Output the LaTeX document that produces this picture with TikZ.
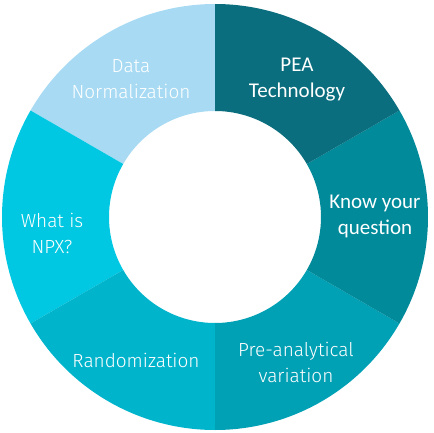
\documentclass[tikz,border=0pt]{standalone}
\usepackage{fontspec}
\newfontfamily\thinfont{Fira Sans Light}
\newfontfamily\regfont{Carlito}
\definecolor{cPEA}{HTML}{0B6E7E}
\definecolor{cKnow}{HTML}{018A9A}
\definecolor{cPre}{HTML}{00A0B5}
\definecolor{cRand}{HTML}{00B4CC}
\definecolor{cNPX}{HTML}{00C8E2}
\definecolor{cData}{HTML}{A8DBF3}
\begin{document}
\begin{tikzpicture}[x=1pt,y=1pt,
  seglabel/.style={text=white,align=center,font=\thinfont\fontsize{19}{26}\selectfont},
  seglabelb/.style={text=white,align=center,font=\regfont\fontsize{21}{26}\selectfont}]
\useasboundingbox (0,0) rectangle (434,432);
\coordinate (c) at (215,215);
\def\RO{213}\def\RI{106}
\foreach \a/\b/\col in {90/150/cData,150/210/cNPX,210/270/cRand,270/330/cPre,330/390/cKnow,30/90/cPEA}{
  \fill[\col] ([shift={(\a:\RO)}]c) arc[start angle=\a,end angle=\b,radius=\RO]
     -- ([shift={(\b:\RI)}]c) arc[start angle=\b,end angle=\a,radius=\RI] -- cycle;
}
\node[seglabel] (data) at (131,353) {Data\\Normalization};
\node[seglabelb] (pea) at (297,352) {PEA\\Technology};
\node[seglabelb] (know) at (375,216) {Know your\\question};
\node[seglabel] (npx) at (52,199) {What is\\NPX?};
\node[seglabel] (rand) at (136,72) {Randomization};
\node[seglabel] (pre) at (296,70) {Pre-analytical\\variation};
\end{tikzpicture}
\end{document}
